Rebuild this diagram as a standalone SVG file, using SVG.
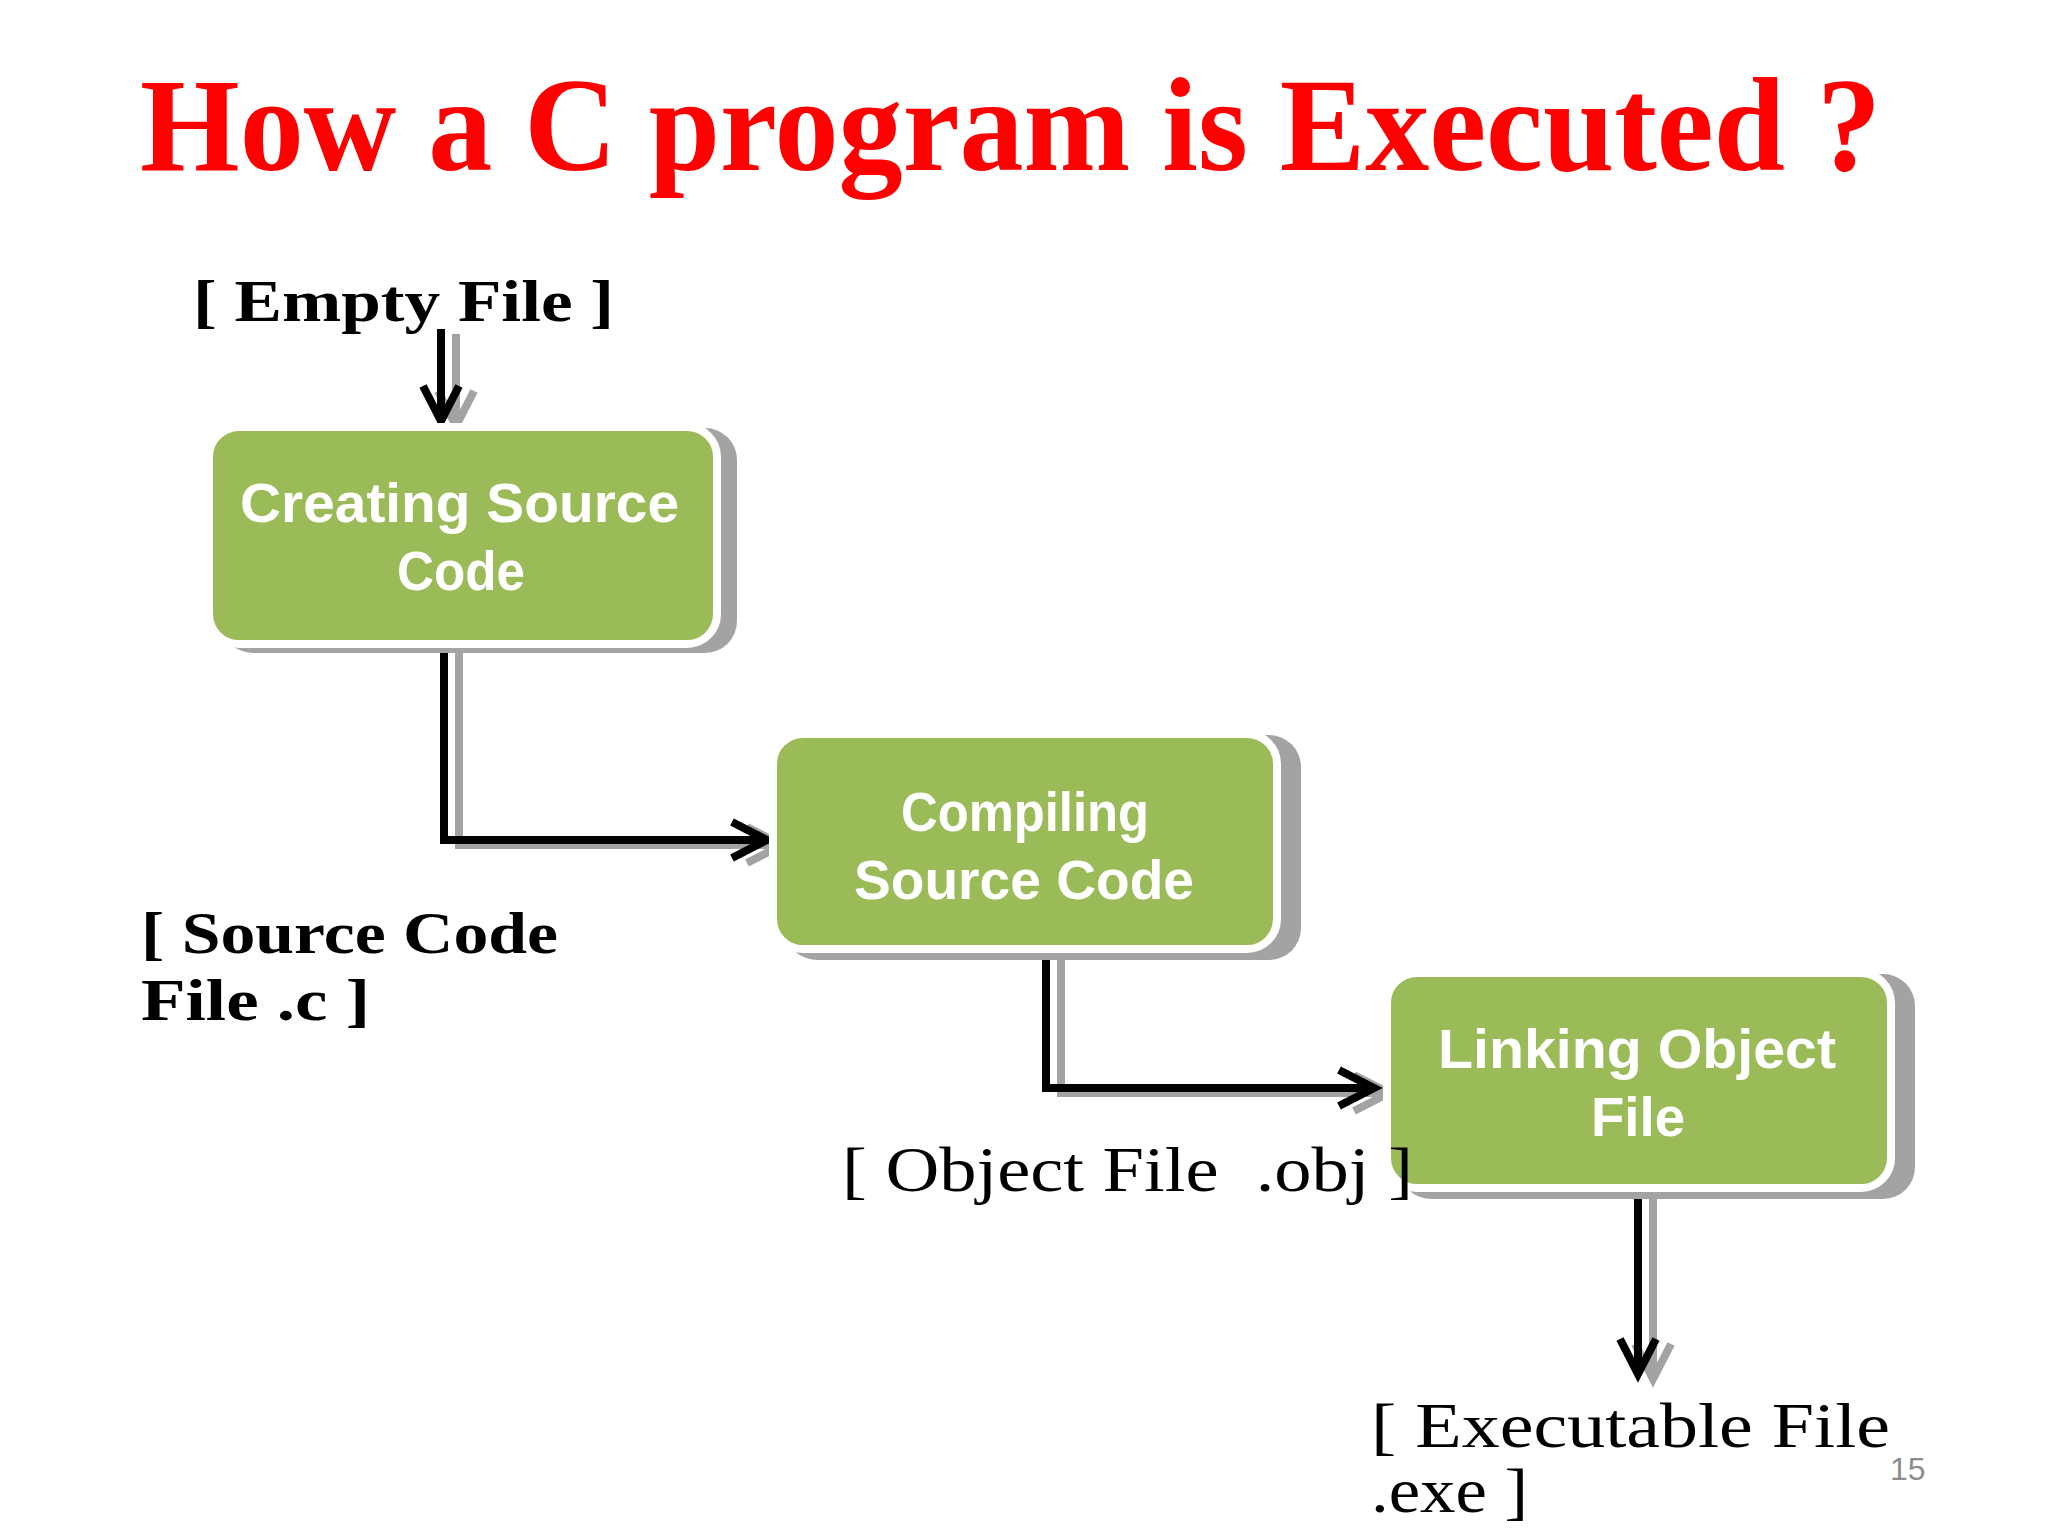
<svg xmlns="http://www.w3.org/2000/svg" width="2048" height="1536" viewBox="0 0 2048 1536">
<style>
.title{font-family:"Liberation Serif",serif;font-weight:bold;font-size:134px;fill:#ff0000}
.lbl{font-family:"Liberation Serif",serif;font-weight:bold;font-size:60px;fill:#000}
.lbl2{font-family:"Liberation Serif",serif;font-size:63px;fill:#000}
.box{fill:#9bbb59;stroke:#ffffff;stroke-width:8}
.shadow{fill:#a3a3a3}
.btxt{font-family:"Liberation Sans",Arial,sans-serif;font-weight:bold;font-size:56px;fill:#ffffff}
.ln{fill:none;stroke:#000;stroke-width:8;stroke-linejoin:miter}
.sh{fill:none;stroke:#a3a3a3;stroke-width:8}
.pg{font-family:"Liberation Sans",sans-serif;font-size:32px;fill:#8c8c8c}
</style>
<rect width="2048" height="1536" fill="#ffffff"/>
<text class="title" x="140" y="170" textLength="1741" lengthAdjust="spacingAndGlyphs">How a C program is Executed ?</text>

<g id="connectors">
  <g transform="translate(15,5)">
    <path class="sh" d="M441 329 V415 M423 386 L441 421 L459 386"/>
    <path class="sh" d="M444 648 V840 H760 M732 822 L767 840 L732 858"/>
    <path class="sh" d="M1046 955 V1088 H1366 M1339 1070 L1374 1088 L1339 1106"/>
    <path class="sh" d="M1638 1193 V1366 M1620 1339 L1638 1374 L1656 1339"/>
  </g>
  <path class="ln" d="M441 329 V415 M423 386 L441 421 L459 386"/>
  <path class="ln" d="M444 648 V840 H760 M732 822 L767 840 L732 858"/>
  <path class="ln" d="M1046 955 V1088 H1366 M1339 1070 L1374 1088 L1339 1106"/>
  <path class="ln" d="M1638 1193 V1366 M1620 1339 L1638 1374 L1656 1339"/>
</g>

<g id="node-create">
  <rect class="shadow" x="221" y="428" width="516" height="225" rx="32"/>
  <rect class="box" x="209" y="427" width="508" height="217" rx="30"/>
  <text class="btxt" x="240" y="522" textLength="439" lengthAdjust="spacingAndGlyphs">Creating Source</text>
  <text class="btxt" x="397" y="590" textLength="128" lengthAdjust="spacingAndGlyphs">Code</text>
</g>

<g id="node-compile">
  <rect class="shadow" x="785" y="735" width="516" height="225" rx="32"/>
  <rect class="box" x="773" y="734" width="504" height="215" rx="30"/>
  <text class="btxt" x="901" y="831" textLength="248" lengthAdjust="spacingAndGlyphs">Compiling</text>
  <text class="btxt" x="854" y="899" textLength="340" lengthAdjust="spacingAndGlyphs">Source Code</text>
</g>

<g id="node-link">
  <rect class="shadow" x="1399" y="974" width="516" height="225" rx="32"/>
  <rect class="box" x="1387" y="973" width="504" height="215" rx="30"/>
  <text class="btxt" x="1438" y="1068" textLength="398" lengthAdjust="spacingAndGlyphs">Linking Object</text>
  <text class="btxt" x="1591" y="1136" textLength="94" lengthAdjust="spacingAndGlyphs">File</text>
</g>

<g id="labels">
  <text class="lbl" x="193" y="321" textLength="421" lengthAdjust="spacingAndGlyphs">[ Empty File ]</text>
  <text class="lbl" x="141" y="953" textLength="417" lengthAdjust="spacingAndGlyphs">[ Source Code</text>
  <text class="lbl" x="141" y="1020" textLength="229" lengthAdjust="spacingAndGlyphs">File .c ]</text>
  <text class="lbl2" x="842" y="1191" textLength="571" lengthAdjust="spacingAndGlyphs" xml:space="preserve">[ Object File  .obj ]</text>
  <text class="lbl2" x="1371" y="1447" textLength="519" lengthAdjust="spacingAndGlyphs">[ Executable File</text>
  <text class="lbl2" x="1371" y="1512" textLength="157" lengthAdjust="spacingAndGlyphs">.exe ]</text>
</g>
<text class="pg" x="1890" y="1480">15</text>
</svg>
